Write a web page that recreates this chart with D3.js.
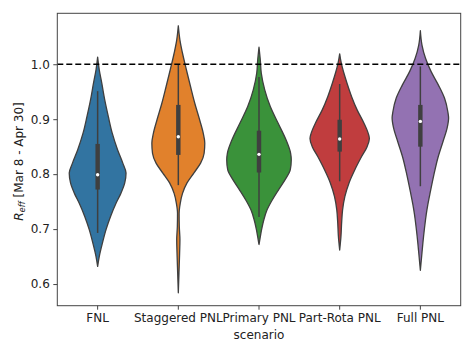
<!DOCTYPE html>
<html>
<head>
<meta charset="utf-8">
<script src="https://cdn.jsdelivr.net/npm/d3@7"></script>
<style>
  html, body { margin: 0; padding: 0; background: #ffffff; }
  svg { display: block; }
  text { font-family: "DejaVu Sans", sans-serif; }
</style>
</head>
<body>
<svg id="chart" width="474" height="355"></svg>
<script>
// ---- data ----
const categories = ["FNL", "Staggered PNL", "Primary PNL", "Part-Rota PNL", "Full PNL"];

// kernel density outline per scenario: [R_eff value, relative density]
const densityFNL = [[1.013,0],[0.990,0.05],[0.965,0.13],[0.935,0.22],[0.905,0.33],[0.875,0.45],[0.844,0.62],[0.820,0.78],[0.802,0.88],[0.784,0.84],[0.765,0.72],[0.747,0.57],[0.723,0.40],[0.699,0.26],[0.675,0.15],[0.650,0.05],[0.632,0]];
const densityStaggered = [[1.070,0],[1.044,0.05],[1.020,0.13],[0.990,0.25],[0.959,0.38],[0.929,0.51],[0.899,0.66],[0.875,0.77],[0.856,0.82],[0.838,0.80],[0.820,0.69],[0.802,0.48],[0.784,0.27],[0.765,0.13],[0.747,0.06],[0.729,0.025],[0.705,0.03],[0.681,0.05],[0.656,0.04],[0.620,0.02],[0.584,0]];
const densityPrimary = [[1.031,0],[1.008,0.04],[0.984,0.07],[0.953,0.18],[0.923,0.35],[0.893,0.59],[0.862,0.84],[0.838,0.98],[0.826,1.0],[0.808,0.97],[0.790,0.81],[0.772,0.61],[0.753,0.41],[0.735,0.25],[0.717,0.15],[0.699,0.08],[0.686,0.04],[0.672,0]];
const densityPartRota = [[1.019,0],[1.002,0.05],[0.984,0.13],[0.965,0.23],[0.941,0.37],[0.917,0.54],[0.893,0.75],[0.875,0.88],[0.865,0.92],[0.850,0.85],[0.832,0.68],[0.808,0.47],[0.784,0.29],[0.759,0.16],[0.735,0.09],[0.711,0.06],[0.687,0.04],[0.662,0]];
const densityFull = [[1.061,0],[1.035,0.05],[1.011,0.16],[0.987,0.33],[0.962,0.56],[0.938,0.75],[0.914,0.85],[0.902,0.875],[0.884,0.83],[0.859,0.70],[0.829,0.54],[0.799,0.42],[0.768,0.31],[0.744,0.23],[0.726,0.18],[0.717,0.16],[0.687,0.10],[0.657,0.05],[0.625,0]];
const densities = [densityFNL, densityStaggered, densityPrimary, densityPartRota, densityFull];

// inner box statistics
const whiskerLow  = [0.693, 0.780, 0.722, 0.787, 0.778];
const quartile1   = [0.772, 0.835, 0.803, 0.841, 0.850];
const medians     = [0.799, 0.868, 0.836, 0.864, 0.896];
const quartile3   = [0.855, 0.926, 0.879, 0.899, 0.926];
const whiskerHigh = [0.951, 1.000, 0.977, 0.964, 0.996];

const yTicks = [0.6, 0.7, 0.8, 0.9, 1.0];
const referenceLine = 1.0;
const yLabelMain = "R";
const yLabelSub = "eff";
const yLabelRest = " [Mar 8 - Apr 30]";
const xLabel = "scenario";

// ---- styles / layout ----
const colors = ["#3274a1", "#e1812c", "#3a923a", "#c03d3e", "#9372b2"];
const edge = "#3f3f3f";
const plot = { left: 57.3, right: 460.7, top: 13.3, bottom: 305.7 };

const svg = d3.select("#chart");

const x = d3.scaleBand().domain(categories).range([plot.left, plot.right]).padding(0);
const y = d3.scaleLinear().domain([0.5606, 1.0927]).range([plot.bottom, plot.top]);
const w = d3.scaleLinear().domain([0, 1]).range([0, 0.4 * x.bandwidth()]);

const gViolins = svg.append("g");
categories.forEach((c, i) => {
  const cx = x(c) + x.bandwidth() / 2;
  const pts = densities[i].slice().sort((a, b) => b[0] - a[0]);
  const area = d3.area()
    .curve(d3.curveMonotoneY)
    .y(d => y(d[0]))
    .x0(d => cx - w(d[1]))
    .x1(d => cx + w(d[1]));
  gViolins.append("path")
    .attr("d", area(pts))
    .attr("fill", colors[i])
    .attr("stroke", edge)
    .attr("stroke-width", 1.3)
    .attr("stroke-linejoin", "round");
  // whisker
  gViolins.append("line")
    .attr("x1", cx).attr("x2", cx)
    .attr("y1", y(whiskerLow[i])).attr("y2", y(whiskerHigh[i]))
    .attr("stroke", edge).attr("stroke-width", 1.5);
  // box
  gViolins.append("rect")
    .attr("x", cx - 2.2).attr("width", 4.4)
    .attr("y", y(quartile3[i])).attr("height", y(quartile1[i]) - y(quartile3[i]))
    .attr("fill", edge);
  // median
  gViolins.append("circle")
    .attr("cx", cx).attr("cy", y(medians[i])).attr("r", 1.7)
    .attr("fill", "#ffffff");
});

// reference dashed line
svg.append("line")
  .attr("x1", plot.left).attr("x2", plot.right)
  .attr("y1", y(referenceLine)).attr("y2", y(referenceLine))
  .attr("stroke", "#000").attr("stroke-width", 1.5)
  .attr("stroke-dasharray", "6,3");

// frame
svg.append("rect")
  .attr("x", plot.left).attr("y", plot.top)
  .attr("width", plot.right - plot.left).attr("height", plot.bottom - plot.top)
  .attr("fill", "none").attr("stroke", "#444").attr("stroke-width", 1);

// y axis
const yAxis = d3.axisLeft(y).tickValues(yTicks).tickFormat(d3.format(".1f")).tickSize(4).tickPadding(3.5);
const gy = svg.append("g").attr("transform", `translate(${plot.left},0)`).call(yAxis);
gy.select(".domain").remove();
gy.selectAll("line").attr("stroke", "#444");
gy.selectAll("text").attr("font-size", 12).attr("fill", "#222").attr("font-family", "DejaVu Sans");

// x axis
const xAxis = d3.axisBottom(x).tickSize(4).tickPadding(4);
const gx = svg.append("g").attr("transform", `translate(0,${plot.bottom})`).call(xAxis);
gx.select(".domain").remove();
gx.selectAll("line").attr("stroke", "#444");
gx.selectAll("text").attr("font-size", 12).attr("fill", "#222").attr("font-family", "DejaVu Sans");

// axis labels
svg.append("text")
  .attr("x", (plot.left + plot.right) / 2).attr("y", 339)
  .attr("text-anchor", "middle").attr("font-size", 12).attr("fill", "#222")
  .text(xLabel);

const yl = svg.append("text")
  .attr("transform", `translate(23,${(plot.top + plot.bottom) / 2 + 2}) rotate(-90)`)
  .attr("text-anchor", "middle").attr("font-size", 12).attr("fill", "#222");
yl.append("tspan").attr("font-style", "italic").text(yLabelMain);
yl.append("tspan").attr("font-style", "italic").attr("font-size", 8.4).attr("dy", 2.2).text(yLabelSub);
yl.append("tspan").attr("dy", -2.2).text(yLabelRest);
</script>
</body>
</html>
